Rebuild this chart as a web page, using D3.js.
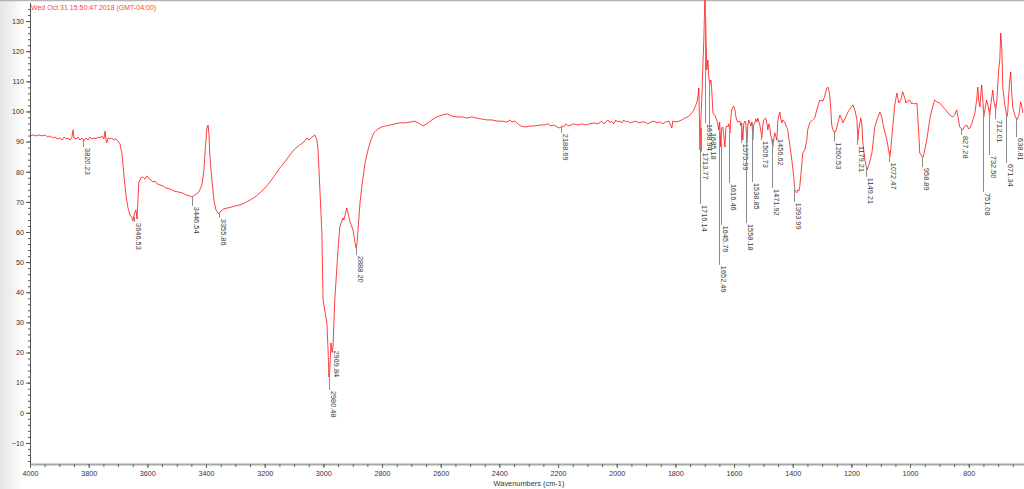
<!DOCTYPE html>
<html>
<head>
<meta charset="utf-8">
<script src="https://cdn.jsdelivr.net/npm/d3@7"></script>
<style>
html,body{margin:0;padding:0;background:#fff;}
svg{display:block;}
</style>
</head>
<body>
<script>
// ---------- DATA ----------
const wavenumbers = [
4000,3990,3980,3969,3959,3949,3939,3932,3922,3915,3905,3898,3891,3884,3877,3870,3864,3857,3853,3850,
3843,3836,3830,3823,3816,3809,3802,3796,3789,3782,3775,3768,3761,3755,3748,3744,3741,3738,3734,3727,
3721,3714,3707,3700,3693,3686,3680,3673,3666,3659,3652,3649,3646,3642,3639,3635,3632,3629,3622,3615,
3608,3601,3594,3588,3581,3574,3567,3557,3547,3537,3523,3509,3496,3482,3468,3455,3448,3438,3427,3421,
3414,3407,3404,3400,3397,3393,3390,3387,3380,3373,3366,3359,3356,3349,3339,3325,3312,3298,3284,3267,
3250,3233,3216,3199,3182,3165,3148,3131,3114,3097,3080,3066,3056,3049,3039,3029,3022,3018,3005,3001,
2988,2984,2981,2978,2974,2970,2967,2961,2950,2944,2933,2930,2920,2909,2899,2892,2888,2885,2875,2869,
2858,2848,2838,2828,2814,2800,2787,2773,2756,2739,2722,2705,2688,2671,2661,2647,2630,2613,2596,2579,
2562,2545,2528,2511,2494,2477,2460,2443,2425,2408,2391,2374,2364,2357,2347,2337,2327,2316,2306,2296,
2279,2262,2245,2235,2224,2214,2204,2194,2187,2180,2173,2166,2156,2146,2132,2119,2105,2092,2078,2064,
2051,2044,2037,2030,2023,2017,2010,2003,1996,1989,1982,1976,1969,1962,1955,1945,1935,1924,1914,1904,
1894,1884,1873,1863,1853,1843,1833,1822,1812,1809,1798,1788,1778,1768,1757,1751,1744,1737,1730,1727,
1723,1720,1716,1713,1710,1706,1703,1699,1696,1693,1689,1686,1683,1679,1676,1672,1666,1659,1655,1652,
1649,1645,1642,1638,1635,1631,1628,1625,1621,1618,1614,1611,1608,1604,1601,1597,1594,1591,1587,1580,
1577,1574,1570,1567,1563,1560,1556,1553,1550,1546,1543,1539,1536,1533,1529,1526,1522,1519,1516,1512,
1505,1502,1499,1492,1488,1485,1481,1478,1475,1471,1468,1464,1461,1458,1454,1451,1447,1444,1441,1437,
1434,1430,1427,1424,1417,1410,1403,1396,1393,1389,1386,1383,1379,1376,1369,1366,1359,1352,1349,1342,
1332,1325,1318,1308,1297,1291,1284,1280,1277,1274,1270,1267,1263,1257,1253,1246,1239,1232,1229,1219,
1212,1202,1195,1188,1181,1178,1175,1168,1164,1161,1154,1147,1140,1130,1120,1113,1103,1096,1093,1086,
1079,1072,1069,1066,1059,1052,1045,1038,1032,1025,1018,1014,1008,1001,994,991,984,977,974,970,
967,960,957,953,950,943,933,926,916,909,899,888,878,865,854,848,841,837,831,824,
820,813,807,800,796,790,779,773,769,766,762,759,756,752,749,745,739,735,728,725,
718,715,708,704,701,698,694,691,687,684,677,670,667,664,660,657,654,650,643,636,
629,623,619,616
];
const transmittance = [
91.9,92.2,91.9,92.2,91.9,92.2,91.5,91.9,91.2,91.5,90.9,91.2,90.5,91.5,90.9,91.2,90.5,91.5,93.9,91.2,
90.9,91.5,90.5,91.2,90.2,91.2,90.5,91.5,90.9,91.2,90.9,91.5,91.2,91.9,90.9,93.5,90.5,89.6,91.2,90.9,
91.2,90.5,90.9,90.2,89.2,85.6,78.9,72.3,68.0,65.7,64.7,63.7,65.3,66.7,67.3,64.3,70.6,76.6,77.9,78.3,
77.6,78.6,77.6,77.3,76.6,76.9,76.0,75.6,75.3,74.6,74.3,73.6,73.3,73.0,72.3,72.0,71.6,72.3,73.0,74.0,
75.6,80.6,85.6,90.5,94.5,95.5,92.5,85.6,77.3,70.6,67.3,66.3,66.0,67.0,67.7,68.0,68.3,68.7,69.0,69.7,
70.6,71.6,73.0,74.6,76.6,78.9,81.3,83.3,85.6,87.6,88.9,89.9,91.2,90.5,91.5,92.2,90.5,87.2,59.7,37.5,
29.9,20.9,11.9,14.3,23.2,20.0,22.0,37.5,54.1,61.7,64.7,64.0,68.0,63.3,60.7,56.4,54.7,56.4,69.7,75.0,
82.9,87.2,90.5,92.9,94.2,94.9,95.2,95.5,95.9,96.2,96.2,96.5,96.8,95.9,95.2,95.9,97.2,98.2,98.8,99.2,
98.5,98.2,98.2,97.8,98.2,97.8,97.5,97.2,97.2,96.8,96.8,96.5,97.2,96.5,96.8,95.9,95.2,94.9,94.9,95.2,
95.2,95.5,95.5,95.9,95.2,95.5,94.9,94.5,95.2,94.9,95.9,95.2,95.5,95.9,95.5,95.9,95.5,95.9,96.2,95.9,
96.8,95.9,96.5,97.2,96.2,96.8,95.9,97.2,96.5,96.8,96.2,97.2,96.5,96.8,96.2,96.5,96.8,96.2,96.5,96.5,
95.9,96.5,96.8,96.2,96.5,95.9,96.5,96.8,94.5,96.8,96.5,96.8,97.2,97.8,98.2,98.8,99.5,100.5,102.2,102.8,
105.1,107.8,87.2,97.2,103.8,116.1,123.7,140.0,127.0,113.8,117.1,111.4,108.8,110.4,107.1,99.5,98.8,97.2,95.5,93.9,
96.5,88.2,94.5,94.9,92.2,88.2,94.5,95.2,94.9,95.9,92.9,97.8,100.5,101.5,101.8,100.5,98.5,97.2,96.5,96.8,
95.2,96.2,90.5,95.9,96.8,96.2,89.6,95.5,97.2,96.2,95.2,96.5,90.5,95.5,96.2,97.5,96.5,97.8,96.8,95.5,
91.5,95.5,97.2,97.8,96.2,93.9,95.9,94.5,92.2,90.5,88.2,91.2,92.9,91.9,90.5,96.5,98.8,99.8,97.8,96.2,
97.2,96.8,96.5,95.5,93.9,88.9,83.9,77.9,74.0,73.3,73.0,74.0,73.6,75.0,82.3,86.2,87.2,90.5,93.9,96.2,
97.2,97.8,100.5,103.8,103.5,105.1,107.8,108.1,107.1,105.5,100.5,95.5,93.9,92.9,93.5,96.2,98.8,97.2,96.2,98.2,
99.8,101.2,102.2,100.5,97.2,90.5,93.9,97.8,95.5,89.6,83.9,80.6,82.3,86.2,94.9,97.2,99.8,98.2,96.2,93.2,
90.5,86.6,84.9,87.2,94.9,102.2,106.1,102.8,103.8,106.5,104.5,102.8,103.5,103.8,102.5,102.8,102.5,102.8,98.8,92.2,
86.2,85.2,84.6,85.6,87.2,90.5,97.2,100.5,103.8,103.2,102.8,101.5,100.5,98.8,98.2,98.8,100.5,98.5,94.9,94.2,
93.9,95.2,95.5,94.2,94.5,95.9,99.5,103.8,108.1,103.8,101.5,105.5,108.8,103.8,98.2,100.5,103.8,102.2,98.8,102.2,
107.1,103.8,100.5,103.8,108.8,113.8,117.1,126.0,120.4,108.1,102.2,98.2,99.8,105.5,110.4,113.1,107.1,101.5,98.8,97.2,
98.8,103.2,101.8,99.5
];

// peak picks and where each rotated label starts (in %T)
const peakWavenumbers = [3820.23,3646.53,3446.54,3355.86,2980.48,2969.84,2888.20,2188.69,
  1716.14,1713.77,1698.94,1685.18,1652.49,1645.76,1616.46,1575.99,1558.18,1538.85,1506.73,
  1471.92,1456.62,1393.99,1260.53,1179.21,1149.21,1072.47,958.89,827.28,751.08,732.50,712.01,671.34,638.81];
const peakLabelLevels = [88.2,63.3,68.7,64.7,7.6,21.0,52.4,92.9,
  69.3,86.6,96.2,93.2,49.1,62.4,76.3,89.6,63.0,76.6,90.5,
  74.6,91.2,70.0,90.0,88.9,78.3,83.3,81.6,92.2,73.3,85.6,97.5,82.9,91.5];

const xTicks = [4000,3800,3600,3400,3200,3000,2800,2600,2400,2200,2000,1800,1600,1400,1200,1000,800];
const yTicks = [-10,0,10,20,30,40,50,60,70,80,90,100,110,120,130];
const headerText = "Wed Oct 31 15:50:47 2018 (GMT-04:00)";
const xTitle = "Wavenumbers (cm-1)";

// ---------- CHART ----------
(function () {
const W = 1024, H = 489;
const mLeft = 30, mRight = 1023, mTop = 3, mBottom = 464;
const FONT = "'Liberation Sans', Arial, sans-serif";

const svg = d3.select("body").append("svg").attr("width", W).attr("height", H);

const defs = svg.append("defs");
const grad = defs.append("linearGradient").attr("id","lg").attr("x1","0").attr("x2","1").attr("y1","0").attr("y2","0");
grad.append("stop").attr("offset","0").attr("stop-color","#e4e4e4");
grad.append("stop").attr("offset","1").attr("stop-color","#ffffff");
defs.append("clipPath").attr("id","plotclip").append("rect")
  .attr("x", mLeft).attr("y", 0).attr("width", mRight - mLeft + 1).attr("height", mBottom);

svg.append("rect").attr("x",0).attr("y",0).attr("width",24).attr("height",H).attr("fill","url(#lg)");
svg.append("line").attr("x1",0).attr("x2",W).attr("y1",0.5).attr("y2",0.5).attr("stroke","#b4b4b4").attr("stroke-width",1.5);

const x = d3.scaleLinear().domain([4000, 615]).range([mLeft, mRight]);
const y = d3.scaleLinear().domain([-17, 136]).range([mBottom, mTop]);

// bottom axis
const xMinor = d3.range(4000, 614, -50);
const gx = svg.append("g").attr("transform", `translate(0,${mBottom})`);
gx.append("line").attr("x1", mLeft).attr("x2", W).attr("y1", 0.5).attr("y2", 0.5)
  .attr("stroke", "#a8a8a8").attr("stroke-width", 2);
const xm = gx.append("g").call(d3.axisBottom(x).tickValues(xMinor).tickSize(3).tickFormat(""));
xm.select(".domain").remove();
xm.selectAll("line").attr("stroke", "#666");
const xMajor = gx.append("g").call(d3.axisBottom(x).tickValues(xTicks).tickSize(4).tickPadding(3).tickFormat(d3.format("d")));
xMajor.select(".domain").remove();
xMajor.selectAll("line").attr("stroke", "#666");
xMajor.selectAll("text").attr("font-family", FONT).attr("font-size", 7.2).attr("fill", "#333");

// left axis
const yMinor = d3.range(-16, 136, 2);
const gy = svg.append("g").attr("transform", `translate(${mLeft},0)`);
gy.append("line").attr("x1", 0.5).attr("x2", 0.5).attr("y1", mTop).attr("y2", mBottom).attr("stroke", "#555").attr("stroke-width", 1);
const ym = gy.append("g").call(d3.axisLeft(y).tickValues(yMinor).tickSize(2).tickFormat(""));
ym.select(".domain").remove();
ym.selectAll("line").attr("stroke", "#555");
const yM = gy.append("g").call(d3.axisLeft(y).tickValues(yTicks).tickSize(4).tickPadding(2));
yM.select(".domain").remove();
yM.selectAll("line").attr("stroke", "#555");
yM.selectAll("text").attr("font-family", FONT).attr("font-size", 7.2).attr("fill", "#333");

// header
svg.append("text").attr("x", 31).attr("y", 9.5).attr("font-family", FONT).attr("font-size", 7.0)
  .attr("fill", "#ff4040").text(headerText);

// x title
svg.append("text").attr("x", 529).attr("y", 486).attr("text-anchor", "middle")
  .attr("font-family", FONT).attr("font-size", 7.4).attr("fill", "#333").text(xTitle);

// spectrum
const pts = wavenumbers.map((w, i) => [w, transmittance[i]]);
const line = d3.line().x(d => x(d[0])).y(d => y(d[1]));
const plot = svg.append("g").attr("clip-path", "url(#plotclip)");
plot.append("path").datum(pts).attr("d", line).attr("fill", "none")
  .attr("stroke", "#ff0000").attr("stroke-width", 0.75).attr("stroke-linejoin", "round");

// peak labels
function curveAt(w) {
  for (let i = 0; i < pts.length - 1; i++) {
    const a = pts[i], b = pts[i + 1];
    if (w <= a[0] && w >= b[0]) {
      const t = (a[0] - w) / (a[0] - b[0]);
      return a[1] + t * (b[1] - a[1]);
    }
  }
  return pts[pts.length - 1][1];
}
const labels = plot.append("g");
peakWavenumbers.forEach((w, i) => {
  const px = Math.round(x(w)) + 0.5;
  const y0 = y(curveAt(w)), y1 = y(peakLabelLevels[i]);
  if (y1 > y0) {
    labels.append("line").attr("x1", px).attr("x2", px).attr("y1", y0).attr("y2", y1)
      .attr("stroke", "#8c8c8c").attr("stroke-width", 1);
  }
  labels.append("text")
    .attr("transform", `translate(${px + 1},${y1 + 1}) rotate(90)`)
    .attr("font-family", FONT).attr("font-size", 7.4).attr("fill", "#3a3a3a")
    .text(w.toFixed(2));
});
})();
</script>
</body>
</html>
